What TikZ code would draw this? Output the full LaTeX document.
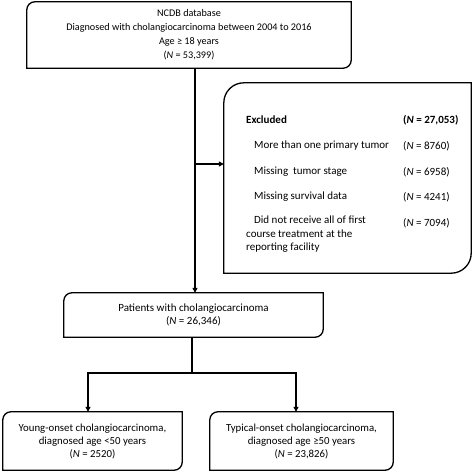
\documentclass[tikz,border=0pt]{standalone}
\usepackage{fontspec}
\setmainfont{Carlito}
\usepackage{tikz}
\usetikzlibrary{arrows.meta,positioning}

% outline with rounded top-left and bottom-right corners
\newcommand{\snipframe}[2][8pt]{%
  \draw[frame] (#2.south west) -- ([yshift=-#1]#2.north west)
    arc[start angle=180, end angle=90, radius=#1] -- (#2.north east)
    -- ([yshift=#1]#2.south east)
    arc[start angle=0, end angle=-90, radius=#1] -- cycle;}

\begin{document}
\begin{tikzpicture}[x=1pt, y=1pt,
  box/.style={align=center, inner sep=0pt, font=\fontsize{11}{13.5}\selectfont},
  frame/.style={draw=black, line width=1.3pt},
  arr/.style={-{Triangle[length=5pt,width=5pt]}, line width=1.3pt},
  link/.style={line width=1.3pt},
  item/.style={anchor=west, inner sep=0pt, align=left, font=\fontsize{11}{13.5}\selectfont}
]
  \useasboundingbox (0,0) rectangle (474,-473);
  \node[box, minimum width=324pt, minimum height=66pt, font=\fontsize{10.2}{14}\selectfont] (db) at (189,-35)
    {NCDB database\\ Diagnosed with cholangiocarcinoma between 2004 to 2016\\ Age ≥ 18 years\\ (\textit{N} = 53,399)};
  \node[box, minimum width=247pt, minimum height=190pt] (excl) at (347.5,-178) {};
  \node[item] (exhead) at (246,-120) {\textbf{Excluded}};
  \node[item] (exn) at (403,-120) {\textbf{(\textit{N} = 27,053)}};
  \node[item] (multi) at (254,-146) {More than one primary tumor};
  \node[item] (multin) at (403,-146) {(\textit{N} = 8760)};
  \node[item] (stage) at (254,-172) {Missing\ \ tumor stage};
  \node[item] (stagen) at (403,-172) {(\textit{N} = 6958)};
  \node[item] (surv) at (254,-197) {Missing survival data};
  \node[item] (survn) at (403,-197) {(\textit{N} = 4241)};
  \node[item, anchor=north west] (treat) at (246,-216)
    {\hspace{8pt}Did not receive all of first\\ course treatment at the\\ reporting facility};
  \node[item] (treatn) at (403,-223) {(\textit{N} = 7094)};
  \node[box, minimum width=259pt, minimum height=44pt, font=\fontsize{11}{13}\selectfont] (pat) at (193.5,-315)
    {Patients with cholangiocarcinoma\\ (\textit{N} = 26,346)};
  \node[box, minimum width=179pt, minimum height=58pt, font=\fontsize{10.8}{13}\selectfont] (young) at (92.5,-441)
    {Young-onset cholangiocarcinoma,\\ diagnosed age <50 years\\ (\textit{N} = 2520)};
  \node[box, minimum width=183pt, minimum height=58pt, font=\fontsize{10.8}{13}\selectfont] (typ) at (301.5,-441)
    {Typical-onset cholangiocarcinoma,\\ diagnosed age ≥50 years\\ (\textit{N} = 23,826)};
  \snipframe{db}
  \snipframe[20pt]{excl}
  \snipframe{pat}
  \snipframe{young}
  \snipframe{typ}
  \coordinate (trunk) at (195,-164);
  \coordinate (split) at (192,-373);
  \draw[arr] (db.south -| trunk) -- (pat.north -| trunk);
  \draw[arr] (trunk) -- (trunk -| excl.west);
  \draw[link] (pat.south -| split) -- (split);
  \draw[arr] (split) -| ([xshift=-4.5pt]young.north);
  \draw[arr] (split) -| ([xshift=-5.5pt]typ.north);
\end{tikzpicture}
\end{document}
